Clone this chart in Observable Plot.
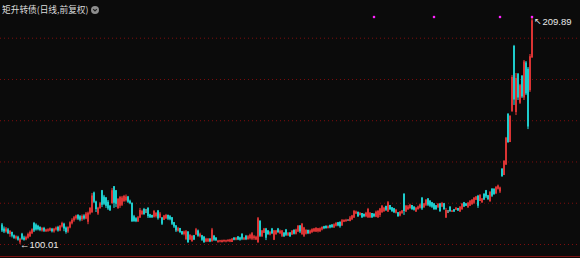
<!DOCTYPE html>
<html>
<head>
<meta charset="utf-8">
<script src="https://cdn.jsdelivr.net/npm/d3@7"></script>
<script src="https://cdn.jsdelivr.net/npm/@observablehq/plot@0.6"></script>
<style>
  html, body { margin: 0; padding: 0; background: #0b0b0b; }
  #wrap { position: relative; width: 580px; height: 258px; overflow: hidden; }
  #title { position: absolute; left: 2px; top: 4px; font-family: "Noto Sans CJK SC", sans-serif; font-size: 8.7px; line-height: 11px; color: #dcdcdc; white-space: nowrap; }
  #title .ic { display: inline-block; width: 8px; height: 8px; border-radius: 50%; background: #8e8e8e; margin-left: 3px; vertical-align: -1px; position: relative; }
  #title .ic svg { position: absolute; left: 0; top: 0; }
</style>
</head>
<body>
<div id="wrap">
  <div id="chart"></div>
  <div id="title">矩升转债(日线,前复权)<span class="ic"><svg width="8" height="8"><path d="M2.2 3.2 L4 5 L5.8 3.2" stroke="#202020" stroke-width="1.2" fill="none"/></svg></span></div>
</div>
<script>
const title = "矩升转债(日线,前复权)";
const open = [109.5,107.5,106.0,107.2,104.8,105.8,104.2,102.8,103.5,100.8,105.0,103.2,102.2,103.0,103.8,105.2,110.2,109.5,108.8,108.2,106.5,107.8,106.2,106.4,106.6,107.4,106.0,107.0,108.2,106.5,108.5,109.8,108.0,106.0,108.0,110.0,111.5,112.5,114.0,113.5,112.0,113.8,112.4,110.8,114.8,115.5,125.0,120.6,114.8,117.4,126.0,123.0,122.5,120.5,118.5,119.9,128.0,126.0,117.5,118.5,119.0,120.8,121.2,123.0,121.0,119.9,113.5,112.5,110.9,112.8,114.5,117.0,115.5,117.5,114.4,114.0,113.2,113.5,116.2,112.8,112.8,111.8,112.5,114.0,113.5,113.0,110.5,109.0,106.4,107.8,106.2,104.8,102.4,106.0,102.2,101.5,104.2,104.6,106.5,103.8,104.2,103.5,101.2,101.2,102.6,101.5,104.0,103.0,101.0,101.2,101.0,101.3,101.2,101.4,101.2,101.0,103.0,102.0,103.6,103.2,104.8,102.2,104.0,102.4,102.8,102.5,102.8,102.2,101.0,111.2,103.8,105.5,107.5,106.5,104.6,107.5,102.0,104.8,107.5,105.2,104.0,105.5,107.0,104.2,105.6,104.6,106.8,105.0,106.0,109.0,104.8,104.0,105.0,106.8,105.2,105.8,106.2,106.0,106.2,106.2,107.0,108.6,108.8,107.8,109.2,109.4,108.0,108.8,110.5,110.8,109.0,110.8,111.0,111.6,111.2,112.0,112.8,114.8,115.5,114.0,115.0,114.5,113.4,113.0,113.0,115.0,114.6,113.2,113.0,114.0,115.5,116.0,118.4,115.8,118.9,117.8,117.3,115.2,115.4,113.8,115.0,124.2,115.8,116.8,117.4,118.9,118.0,115.8,117.0,117.6,122.4,117.8,119.0,122.0,121.0,120.2,119.6,118.8,117.8,119.6,118.2,119.8,112.8,115.2,118.0,115.6,116.8,116.6,117.4,115.8,117.0,120.2,119.6,117.8,118.6,119.4,120.0,121.4,123.4,120.8,120.2,124.2,126.0,123.6,120.8,126.8,126.6,124.6,126.8,125.4,136.5,133.5,138.5,163.0,149.5,164.5,196.0,164.0,182.5,168.5,181.5,171.0,188.0,185.0,174.5,190.5];
const high = [110.2,108.5,108.2,107.8,106.8,106.0,104.6,104.2,104.0,103.0,105.4,104.0,104.0,105.5,106.5,107.6,110.7,110.0,109.3,108.6,108.2,108.3,107.4,107.6,108.0,107.8,107.8,108.5,108.8,109.2,110.8,110.3,108.5,108.6,111.0,112.5,113.6,114.2,114.5,114.0,114.3,114.4,115.5,115.7,117.9,124.7,125.4,121.0,118.0,120.4,126.2,123.8,122.8,121.3,118.9,127.1,128.1,126.2,122.3,123.3,123.3,123.8,124.0,123.3,121.5,120.2,114.1,113.0,113.6,117.5,116.6,117.5,117.0,117.9,114.6,114.2,116.5,115.5,116.5,115.5,113.1,114.1,114.6,114.3,114.0,113.1,110.7,109.2,108.3,107.8,106.3,106.5,106.8,106.2,104.8,104.4,104.4,107.8,107.0,105.5,104.4,103.9,103.0,102.9,102.9,107.8,104.4,103.4,102.0,102.0,102.1,102.2,102.1,102.3,102.5,102.9,103.4,103.4,103.9,103.5,105.3,103.4,104.4,104.3,105.0,105.8,104.4,104.0,113.1,111.6,106.8,107.8,107.8,106.8,106.3,107.8,106.8,106.8,107.8,107.0,106.8,105.8,107.3,105.8,105.8,106.8,107.2,107.4,109.2,109.2,110.2,108.3,107.2,107.0,107.0,107.6,107.8,108.2,107.8,108.0,108.6,108.8,109.0,109.0,109.4,109.6,110.0,110.7,110.7,110.9,112.1,112.0,112.2,112.0,113.6,114.1,116.5,116.2,115.8,115.5,115.0,114.8,115.6,117.5,115.5,115.0,115.0,116.2,116.5,117.5,118.9,118.0,118.6,120.8,118.9,117.9,117.5,117.0,115.5,116.0,116.5,124.7,118.9,118.9,119.5,118.9,118.4,117.9,118.6,119.6,122.8,119.9,121.8,122.3,121.3,120.4,119.9,118.9,119.9,119.9,120.4,119.9,117.5,116.5,118.4,116.5,117.0,117.9,117.5,118.4,119.9,120.4,119.9,120.4,121.3,121.8,122.8,123.3,123.8,124.2,122.3,124.7,126.2,123.8,125.7,127.1,127.1,128.1,128.8,127.8,136.8,140.7,151.9,163.5,162.5,181.9,196.5,182.9,182.9,177.6,181.9,189.2,188.7,185.8,192.1,209.89];
const low = [105.8,105.3,105.5,104.8,103.5,103.2,102.5,102.2,101.6,100.01,102.0,101.6,101.8,102.6,103.4,104.8,105.8,106.5,106.6,106.2,106.0,105.8,105.8,105.9,106.2,105.6,105.5,106.5,106.0,106.2,108.0,106.2,105.0,105.4,107.6,109.5,110.8,111.8,111.6,111.0,111.2,111.8,112.0,109.6,114.2,115.0,119.8,115.5,114.1,117.0,117.9,118.9,117.5,116.5,116.0,119.5,117.5,117.9,117.0,117.5,118.4,120.4,120.6,119.9,119.3,110.7,110.7,110.6,110.7,112.6,114.0,114.1,115.0,112.6,112.6,112.6,112.8,112.8,111.8,112.5,109.2,111.6,112.1,111.6,111.5,109.2,107.8,105.8,106.0,105.3,104.4,104.2,101.9,100.5,101.9,101.0,101.9,104.4,103.5,103.2,101.5,100.5,100.9,101.0,100.9,101.0,101.5,101.4,100.6,100.8,100.7,100.9,100.8,101.0,100.9,101.0,101.8,101.8,101.9,101.6,101.9,101.9,101.9,102.0,102.2,101.9,102.0,101.9,100.5,103.4,103.4,105.3,101.9,104.4,104.2,104.8,101.9,104.4,105.3,104.8,103.4,103.4,103.9,103.9,103.4,104.4,104.6,104.6,105.8,105.3,104.4,103.4,104.6,104.8,104.8,105.3,105.8,105.8,105.6,105.8,106.6,107.2,107.4,107.5,107.6,107.8,107.8,108.5,108.6,107.9,108.8,110.6,110.8,111.2,111.0,111.6,112.6,114.5,113.1,113.8,112.6,113.0,113.0,112.6,112.6,112.6,113.0,113.0,112.6,113.1,115.0,115.5,116.0,115.5,116.5,115.5,115.0,114.8,113.1,113.4,114.6,114.1,115.5,116.5,117.0,116.5,116.2,115.5,116.6,117.2,116.5,117.5,118.4,118.4,117.9,117.5,116.5,116.5,117.5,115.5,117.9,116.5,112.6,115.0,115.5,115.5,115.5,116.5,116.0,115.5,116.5,117.9,118.4,117.5,118.4,118.9,119.4,121.3,117.5,120.8,119.9,121.3,122.3,121.3,120.4,122.8,123.8,124.2,126.4,124.7,132.5,133.4,138.3,149.0,149.4,164.0,167.4,162.5,169.8,167.9,170.8,169.8,172.2,155.7,173.7,190.2];
const close = [106.5,106.0,107.5,105.2,106.3,104.0,103.0,103.8,102.0,102.5,102.6,102.0,103.4,104.8,105.8,107.2,106.5,107.0,107.2,106.8,107.8,106.4,107.0,107.2,107.6,106.2,107.4,108.0,106.5,108.8,110.2,107.5,105.8,108.2,110.5,111.8,113.0,113.8,112.2,111.8,113.6,112.4,114.8,115.2,117.4,123.5,120.5,117.0,117.6,119.8,119.0,119.5,118.5,117.2,116.4,126.0,120.0,119.5,121.8,122.8,122.6,123.3,123.0,120.5,119.8,111.0,111.2,111.0,113.0,116.5,116.0,114.5,115.5,113.5,113.0,113.0,116.0,115.0,112.5,114.8,109.8,113.8,114.0,112.2,112.0,109.8,108.5,106.5,107.6,105.8,104.8,106.0,106.2,101.0,104.4,103.9,102.2,107.2,104.0,105.0,102.0,101.0,102.5,102.6,101.2,107.0,102.0,101.8,101.7,101.8,101.8,101.9,101.8,102.0,102.2,102.6,102.0,103.0,102.2,102.0,102.5,103.0,102.3,103.8,104.5,105.2,103.8,103.5,112.5,104.0,106.5,107.5,103.0,104.8,105.8,105.2,106.5,106.5,105.8,106.4,106.5,103.8,104.5,105.5,103.8,106.4,105.0,107.0,108.8,106.0,109.8,108.0,106.8,105.2,106.6,107.2,107.5,107.8,107.6,107.6,108.2,107.6,107.8,108.6,108.0,108.2,109.6,110.2,109.0,108.6,111.5,111.6,111.8,111.6,112.8,113.8,116.0,115.8,113.4,115.0,113.0,113.4,115.2,117.0,115.2,113.0,113.4,115.6,116.0,117.2,118.6,117.6,116.6,120.2,116.8,116.0,115.4,116.6,113.6,115.6,116.2,116.0,118.6,118.2,119.0,117.0,116.6,117.6,118.2,119.2,117.2,119.6,121.5,119.0,118.5,118.0,117.0,117.0,119.4,116.0,119.9,117.0,116.5,115.2,116.0,116.2,115.7,117.6,116.2,118.0,119.5,118.2,118.6,120.0,121.0,121.5,122.4,123.0,118.5,123.8,122.0,121.6,123.0,121.8,125.2,123.4,124.2,127.6,128.4,127.4,133.0,140.2,151.5,149.5,162.0,181.0,170.0,180.5,171.0,177.0,171.5,188.5,173.0,157.0,191.0,208.5];
const gridLevels = [100, 120, 140, 160, 180, 200];
const eventIdx = [186, 216, 249, 265];

const upColor = "#ff3b3b", downColor = "#22eeee", flatColor = "#e6e6e6";
const candles = open.map((o, i) => ({
  i, open: o, high: high[i], low: low[i], close: close[i],
  color: close[i] > o ? upColor : close[i] < o ? downColor : flatColor
}));
let minI = 0, maxI = 0;
candles.forEach((d, i) => { if (d.low < candles[minI].low) minI = i; if (d.high > candles[maxI].high) maxI = i; });
const lowPt = candles[minI], highPt = candles[maxI];

const chart = Plot.plot({
  width: 580,
  height: 258,
  marginTop: 0, marginLeft: 0, marginRight: 0, marginBottom: 2,
  style: { background: "#0b0b0b", overflow: "visible" },
  x: { domain: [0, open.length - 1], range: [1.5, 531.5], axis: null },
  y: { domain: [100, 200], range: [244, 37.7], axis: null },
  marks: [
    Plot.ruleY(gridLevels, { stroke: "#7e0e0e", strokeWidth: 1, strokeDasharray: "1,3" }),
    Plot.frame({ anchor: "bottom", stroke: "#7a1212" }),
    Plot.ruleX(candles, { x: "i", y1: "low", y2: "high", stroke: "color", strokeWidth: 1 }),
    Plot.ruleX(candles, { x: "i", y1: "open", y2: "close", stroke: "color", strokeWidth: 1.4 }),
    Plot.dot(eventIdx, { x: d => d, frameAnchor: "top", dy: 16.5, symbol: "square", r: 1.3, fill: "#ff22ff", stroke: null }),
    Plot.text([lowPt], { x: "i", y: "low", text: d => "←" + d.low.toFixed(2), textAnchor: "start", dx: 0, fill: "#e8e8e8", fontSize: 9.5, fontFamily: "Liberation Sans, DejaVu Sans, sans-serif" }),
    Plot.text([highPt], { x: "i", y: "high", text: d => "↖", textAnchor: "start", dx: 2, dy: 3, fill: "#e8e8e8", fontSize: 9, fontFamily: "DejaVu Sans, sans-serif" }),
    Plot.text([highPt], { x: "i", y: "high", text: d => d.high.toFixed(2), textAnchor: "start", dx: 10.5, dy: 4.2, fill: "#e8e8e8", fontSize: 9.5, fontFamily: "Liberation Sans, DejaVu Sans, sans-serif" })
  ]
});
document.getElementById("chart").appendChild(chart);
</script>
</body>
</html>
